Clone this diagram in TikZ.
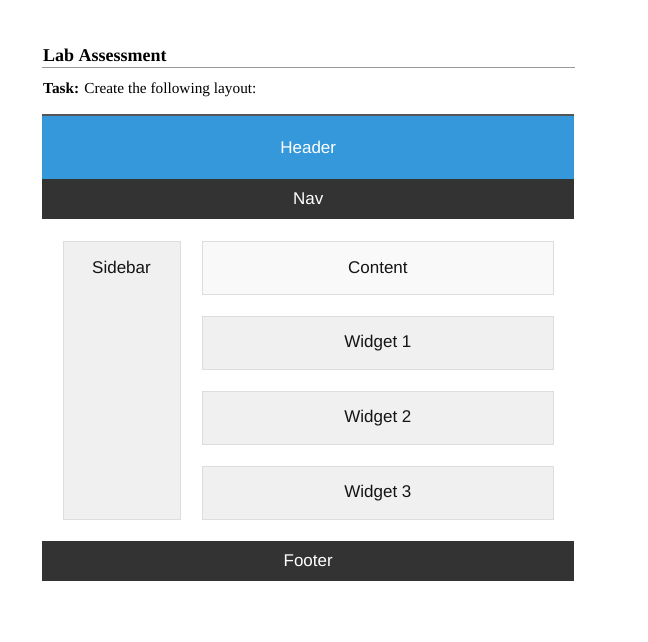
\documentclass[tikz,border=0pt]{standalone}
\usepackage{fontspec}
\setmainfont{Liberation Serif}
\newfontfamily\arialfont{Liberation Sans}
\definecolor{hdrblue}{HTML}{3498DB}
\definecolor{darkbar}{HTML}{333333}
\definecolor{boxfill}{HTML}{F0F0F0}
\definecolor{contfill}{HTML}{F9F9F9}
\definecolor{boxline}{HTML}{DDDDDD}
\definecolor{ruleline}{HTML}{999999}
\definecolor{topline}{HTML}{555555}
\tikzset{
  bar/.style={draw=none, inner sep=0pt, text=white, font=\arialfont\fontsize{17}{19}\selectfont},
  panel/.style={draw=boxline, line width=0.8pt, fill=boxfill, inner sep=0pt, font=\arialfont\fontsize{17}{19}\selectfont, text=black!92},
}
\begin{document}
\begin{tikzpicture}[x=1pt,y=-1pt]
\useasboundingbox (0,0) rectangle (648,641);
% title
\node[anchor=base west, inner sep=0pt, font=\bfseries\fontsize{18}{20}\selectfont] (title) at (43,61.5) {Lab Assessment};
\draw[ruleline, line width=0.8pt] (42,67.5) -- (575,67.5);
\node[anchor=base west, inner sep=0pt, font=\fontsize{15.3}{17}\selectfont] (task) at (43,93) {\textbf{Task:} Create the following layout:};
% header
\fill[topline] (42,114) rectangle (574,116.5);
\node[bar, fill=hdrblue, minimum width=532pt, minimum height=63pt, anchor=north west] (header) at (42,116) {Header};
\node[bar, fill=darkbar, minimum width=532pt, minimum height=40pt, anchor=north west] (nav) at (42,179) {Nav};
% sidebar
\node[panel, minimum width=117pt, minimum height=278pt, anchor=north west] (sidebar) at (63,241) {};
\node[anchor=base, inner sep=0pt, font=\arialfont\fontsize{17}{19}\selectfont, text=black!92] (sidebartext) at (121.5,273) {Sidebar};
% content and widgets
\node[panel, fill=contfill, minimum width=351pt, minimum height=53pt, anchor=north west] (content) at (202,241) {Content};
\node[panel, minimum width=351pt, minimum height=53pt, anchor=north west] (w1) at (202,316) {Widget 1};
\node[panel, minimum width=351pt, minimum height=53pt, anchor=north west] (w2) at (202,391) {Widget 2};
\node[panel, minimum width=351pt, minimum height=53pt, anchor=north west] (w3) at (202,466) {Widget 3};
% footer
\node[bar, fill=darkbar, minimum width=532pt, minimum height=40pt, anchor=north west] (footer) at (42,541) {Footer};
\end{tikzpicture}
\end{document}
